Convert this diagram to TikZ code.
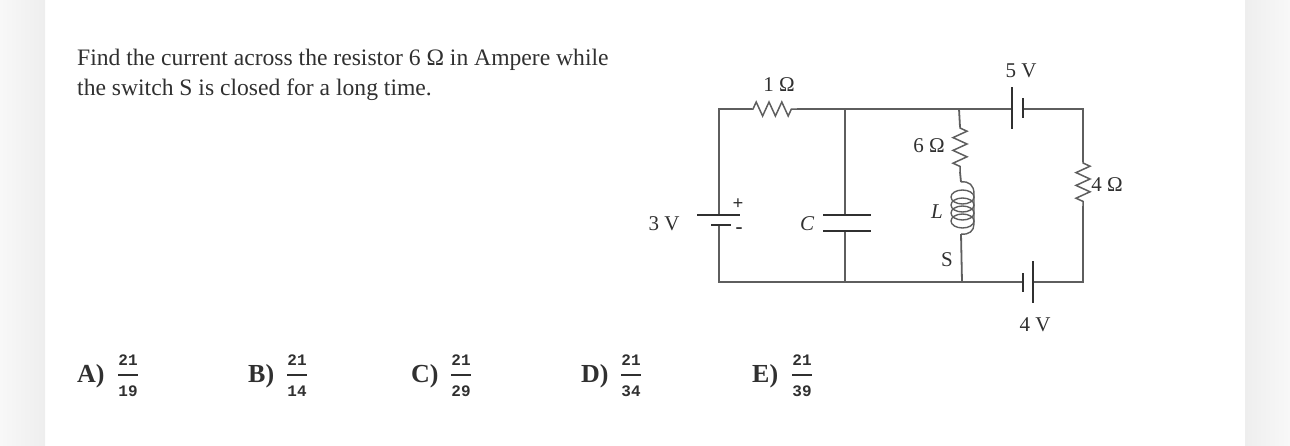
\documentclass[tikz,border=0pt]{standalone}
\usepackage{fontspec}
\setmainfont{Liberation Serif}
\setmonofont{Liberation Mono}
\usepackage{xcolor}
\usetikzlibrary{decorations.pathmorphing}
\definecolor{wirecol}{HTML}{5E5E5E}
\definecolor{inkcol}{HTML}{303030}
\definecolor{edgecol}{HTML}{EEEEEE}
\definecolor{sidecol}{HTML}{F8F8F8}

\begin{document}
\begin{tikzpicture}[x=1pt,y=-1pt,
	wire/.style={draw=wirecol, line width=1.8pt},
	plate/.style={draw=inkcol, line width=1.5pt},
	resistor/.style={wire, line width=1.5pt, decorate, decoration={zigzag, amplitude=7pt, segment length=12.8pt, pre length=1pt, post length=1pt}},
	loop/.style={wire, line width=1.4pt},
	lbl/.style={font=\fontsize{21}{24}\selectfont, text=inkcol, inner sep=0pt},
	anslbl/.style={font=\fontsize{26}{28}\bfseries\selectfont, text=inkcol, inner sep=0pt},
	digits/.style={font=\fontsize{16}{18}\ttfamily\bfseries\selectfont, text=inkcol, inner sep=0pt}]
	\useasboundingbox (0,0) rectangle (1290,445);
	\fill[left color=sidecol, right color=edgecol] (0,0) rectangle (45,445);
	\fill[left color=edgecol, right color=sidecol] (1245,0) rectangle (1290,445);

	\node[lbl, font=\fontsize{23.6}{30}\selectfont, anchor=north west, align=left](question) at (77,49){Find the current across the resistor 6 Ω in Ampere while\\the switch S is closed for a long time.};

	\coordinate(tl) at (719,109);
	\coordinate(rone1) at (752,109);
	\coordinate(rone2) at (797,109);
	\coordinate(capt) at (845,109);
	\coordinate(junc) at (959,109);
	\coordinate(bfive1) at (1012,109);
	\coordinate(bfive2) at (1023,109);
	\coordinate(tr) at (1083,109);
	\coordinate(rfour1) at (1083,162);
	\coordinate(rfour2) at (1083,206);
	\coordinate(br) at (1083,282);
	\coordinate(bfour2) at (1033,282);
	\coordinate(bfour1) at (1023,282);
	\coordinate(sw) at (962,282);
	\coordinate(capb) at (845,282);
	\coordinate(bl) at (719,282);
	\coordinate(bthree1) at (719,215);
	\coordinate(bthree2) at (719,225);
	\coordinate(cap1) at (845,215);
	\coordinate(cap2) at (845,231);
	\coordinate(rsix1) at (960,127);
	\coordinate(rsix2) at (960,172);
	\coordinate(coil1) at (961,182);
	\coordinate(coil2) at (961,234);

	\draw[wire] (bthree1) -- (tl) -- (rone1);
	\draw[resistor] (rone1) -- (rone2);
	\draw[wire] (rone2) -- (capt) -- (junc) -- (bfive1);
	\draw[wire] (bfive2) -- (tr) -- (rfour1);
	\draw[resistor] (rfour1) -- (rfour2);
	\draw[wire] (rfour2) -- (br) -- (bfour2);
	\draw[wire] (bfour1) -- (sw) -- (capb) -- (bl) -- (bthree2);
	\draw[wire] (capt) -- (cap1);
	\draw[wire] (cap2) -- (capb);
	\draw[wire] (junc) -- (rsix1);
	\draw[resistor] (rsix1) -- (rsix2);
	\draw[wire] (rsix2) -- (coil1);
	\draw[loop] (coil1) .. controls (969,181) and (974,185) .. (974,194) -- (974,224) .. controls (974,231) and (969,235) .. (coil2);
	\foreach \y in {197,205,213,221}
		\draw[loop] (962.5,\y) ellipse [x radius=11.5, y radius=7];
	\draw[wire] (coil2) -- (sw);

	\draw[plate] (697,215) -- (740,215);
	\draw[plate] (711,225) -- (731,225);
	\draw[plate] (823,215) -- (871,215);
	\draw[plate] (823,231) -- (871,231);
	\draw[plate] (1012,87) -- (1012,129);
	\draw[plate, line width=2.2pt] (1023,98) -- (1023,118);
	\draw[plate] (1033,261) -- (1033,303);
	\draw[plate] (1023,273) -- (1023,292);

	\node[lbl](rone) at (779,85){1 Ω};
	\node[lbl](vfive) at (1021,71){5 V};
	\node[lbl](rsix) at (929,146){6 Ω};
	\node[lbl](rfour) at (1107,185){4 Ω};
	\node[lbl](ind) at (937,212){\itshape L};
	\node[lbl](swl) at (947,260){S};
	\node[lbl](vfour) at (1035,325){4 V};
	\node[lbl](vthree) at (664,224){3 V};
	\node[lbl](capl) at (807,224){\itshape C};
	\node[lbl, font=\fontsize{19}{24}\bfseries\selectfont](plus) at (738,204){+};
	\node[lbl, font=\fontsize{21}{24}\bfseries\selectfont](minus) at (739,231){-};

	\node[anslbl, anchor=west](ansa) at (77,376){A)};
	\node[digits](ansan) at (128,360){21};
	\node[digits](ansad) at (128,391){19};
	\draw[plate] (118,375) -- (138,375);
	\node[anslbl, anchor=west](ansb) at (248,376){B)};
	\node[digits](ansbn) at (297,360){21};
	\node[digits](ansbd) at (297,391){14};
	\draw[plate] (287,375) -- (307,375);
	\node[anslbl, anchor=west](ansc) at (411,376){C)};
	\node[digits](anscn) at (461,360){21};
	\node[digits](anscd) at (461,391){29};
	\draw[plate] (451,375) -- (471,375);
	\node[anslbl, anchor=west](ansd) at (581,376){D)};
	\node[digits](ansdn) at (631,360){21};
	\node[digits](ansdd) at (631,391){34};
	\draw[plate] (621,375) -- (641,375);
	\node[anslbl, anchor=west](anse) at (752,376){E)};
	\node[digits](ansen) at (802,360){21};
	\node[digits](ansed) at (802,391){39};
	\draw[plate] (792,375) -- (812,375);
\end{tikzpicture}
\end{document}
